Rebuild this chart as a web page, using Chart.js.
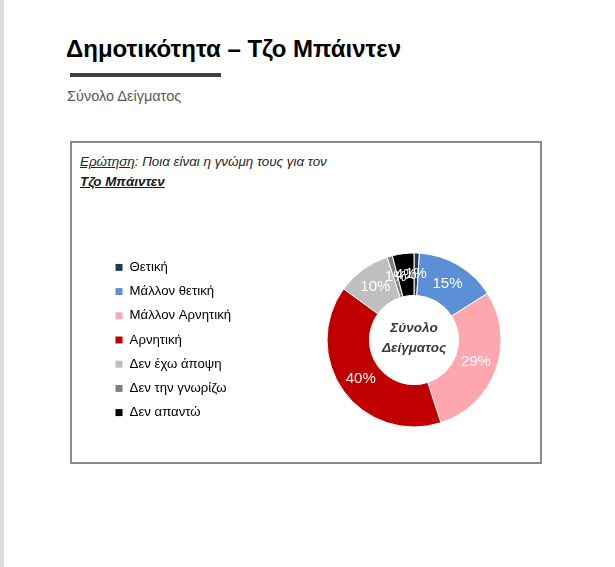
<!DOCTYPE html>
<html lang="el">
<head>
<meta charset="utf-8">
<title>Δημοτικότητα – Τζο Μπάιντεν</title>
<script src="https://cdn.jsdelivr.net/npm/chart.js@4.4.1/dist/chart.umd.min.js"></script>
<style>
  html, body { margin: 0; padding: 0; background: #fff; }
  body { width: 615px; height: 567px; position: relative; overflow: hidden; font-family: "Liberation Sans", Arial, sans-serif; }
  .edge { position: absolute; left: 0; top: 0; width: 4px; height: 567px; background: #dedede; }
  .titlos { position: absolute; left: 66px; top: 35px; font-size: 24px; font-weight: bold; color: #000; white-space: nowrap; }
  .grammi { position: absolute; left: 70px; top: 73px; width: 151px; height: 4px; background: #404040; }
  .ypotitlos { position: absolute; left: 67px; top: 88px; font-size: 14.5px; color: #595959; white-space: nowrap; }
  .plaisio { position: absolute; left: 70px; top: 141px; width: 468px; height: 319px; border: 2px solid #8a8a8a; }
  .erotisi { position: absolute; left: 80px; top: 152px; font-size: 13.4px; font-style: italic; color: #262626; line-height: 20px; white-space: nowrap; }
  .erotisi u { text-underline-offset: 1px; }
  .erotisi b { color: #1a1a1a; }
  #grafima { position: absolute; left: 104px; top: 240px; }
</style>
</head>
<body>
<div class="edge"></div>
<div class="titlos">Δημοτικότητα – Τζο Μπάιντεν</div>
<div class="grammi"></div>
<div class="ypotitlos">Σύνολο Δείγματος</div>
<div class="plaisio"></div>
<div class="erotisi"><u>Ερώτηση</u>: Ποια είναι η γνώμη τους για τον<br><b><u>Τζο Μπάιντεν</u></b></div>
<canvas id="grafima" width="436" height="200"></canvas>

<script>
// δεδομένα
const katigories = ["Θετική", "Μάλλον θετική", "Μάλλον Αρνητική", "Αρνητική", "Δεν έχω άποψη", "Δεν την γνωρίζω", "Δεν απαντώ"];
const pososta = [1, 15, 29, 40, 10, 1, 4];
const xromata = ["#1f3a5c", "#5b8fd6", "#ffa7ae", "#c00000", "#bfbfbf", "#7f7f7f", "#000000"];
const kentroKeimeno = ["Σύνολο", "Δείγματος"];

// ετικέτες % πάνω στα κομμάτια
const etiketesPlugin = {
  id: "etiketes",
  afterDatasetsDraw(chart) {
    const ctx = chart.ctx;
    const meta = chart.getDatasetMeta(0);
    ctx.save();
    ctx.font = "15px 'Liberation Sans', Arial, sans-serif";
    ctx.fillStyle = "#ffffff";
    ctx.textAlign = "center";
    ctx.textBaseline = "middle";
    meta.data.forEach((arc, i) => {
      const pos = arc.tooltipPosition();
      ctx.fillText(pososta[i] + "%", pos.x, pos.y);
    });

    // κείμενο στο κέντρο
    const kx = (chart.chartArea.left + chart.chartArea.right) / 2;
    const ky = (chart.chartArea.top + chart.chartArea.bottom) / 2;
    ctx.font = "italic bold 13.5px 'Liberation Sans', Arial, sans-serif";
    ctx.fillStyle = "#3a3a3a";
    ctx.fillText(kentroKeimeno[0], kx, ky - 12);
    ctx.fillText(kentroKeimeno[1], kx, ky + 8);
    ctx.restore();
  }
};

// πλάτος υπομνήματος για να μπει η πίτα στη σωστή θέση
const platosLegend = {
  id: "platosLegend",
  beforeInit(chart) {
    const fitOrig = chart.legend.fit;
    chart.legend.fit = function () {
      fitOrig.bind(chart.legend)();
      this.width = 184;
    };
  }
};

function ftiakseGrafima() {
  const ctx = document.getElementById("grafima");
  new Chart(ctx, {
    type: "doughnut",
    data: {
      labels: katigories,
      datasets: [{
        data: pososta,
        backgroundColor: xromata,
        borderColor: "#ffffff",
        borderWidth: 1
      }]
    },
    options: {
      responsive: false,
      animation: false,
      radius: 87,
      cutout: 51,
      layout: { padding: 0 },
      plugins: {
        legend: {
          position: "left",
          align: "center",
          labels: {
            boxWidth: 8,
            boxHeight: 8,
            padding: 11,
            color: "#000000",
            font: { family: "'Liberation Sans', Arial, sans-serif", size: 13.2 }
          }
        },
        tooltip: { enabled: false }
      }
    },
    plugins: [etiketesPlugin, platosLegend]
  });
}

document.addEventListener("DOMContentLoaded", ftiakseGrafima);
</script>
</body>
</html>
